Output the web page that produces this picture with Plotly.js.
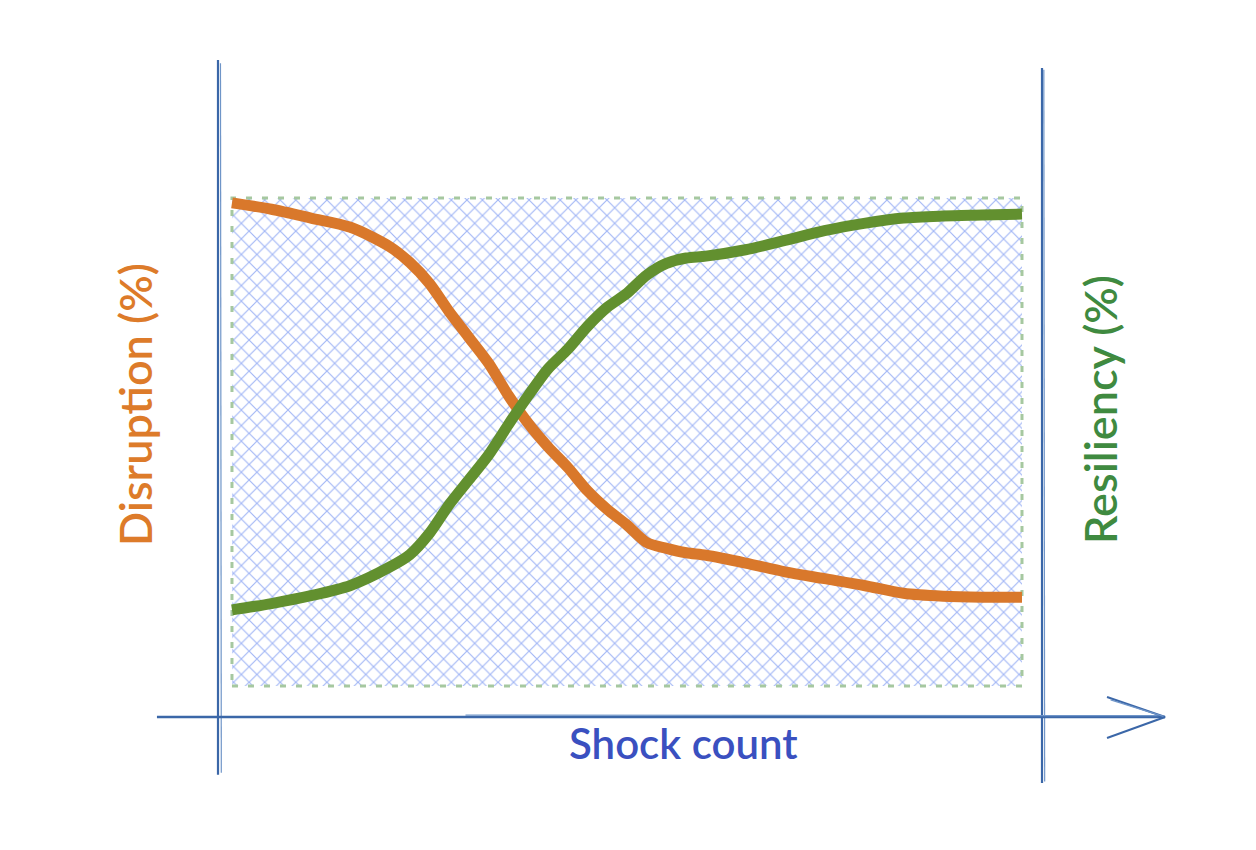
<!DOCTYPE html>
<html>
<head>
<meta charset="utf-8">
<script src="https://cdn.plot.ly/plotly-3.0.1.min.js"></script>
<style>html,body{margin:0;padding:0;background:#fff;}#chart{width:1256px;height:850px;}</style>
</head>
<body>
<div id="chart"></div>
<script>
// Shock count (0-100 scale of the drawn box)
const shockCount = [0, 5, 10, 15, 20, 22.5, 25, 27.5, 30, 32.5, 35, 37.5, 40, 42.5, 45, 47.5, 50, 52.5, 55, 57.5, 60, 65, 70, 75, 80, 85, 90, 95, 100];
// Disruption (%)
const disruption = [99.0, 97.7, 95.9, 94.0, 90.0, 86.8, 82.5, 76.7, 71.4, 66.1, 59.5, 53.8, 49.0, 44.8, 40.0, 36.2, 33.0, 29.4, 28.2, 27.3, 26.8, 25.2, 23.4, 22.0, 20.6, 19.0, 18.4, 18.2, 18.2];
// Resiliency (%)
const resiliency = [15.6, 16.9, 18.5, 20.6, 24.4, 26.9, 31.3, 37.2, 42.3, 47.4, 53.6, 59.5, 65.0, 69.0, 73.7, 77.6, 80.5, 84.2, 86.6, 87.7, 88.1, 89.4, 91.3, 93.3, 94.8, 95.9, 96.3, 96.5, 96.7];
// Hatched box bounds
const boxX = [0, 100, 100, 0, 0];
const boxY = [0, 0, 100, 100, 0];

const axisBlue = '#3b67a8';
const traces = [
  {
    x: boxX, y: boxY, type: 'scatter', mode: 'lines', fill: 'toself',
    fillcolor: 'rgba(255,255,255,0)',
    fillpattern: {shape: 'x', size: 11, solidity: 0.2, fgcolor: '#6f8ff0', fgopacity: 0.65, bgcolor: 'rgba(255,255,255,0)'},
    line: {color: '#a6c8a0', width: 3, dash: '6px,10px'},
    hoverinfo: 'skip', showlegend: false
  },
  {
    x: shockCount, y: disruption, type: 'scatter', mode: 'lines', name: 'Disruption (%)',
    line: {color: '#d9782b', width: 11, shape: 'spline', smoothing: 0.8},
    showlegend: false
  },
  {
    x: shockCount, y: resiliency, type: 'scatter', mode: 'lines', name: 'Resiliency (%)',
    yaxis: 'y2',
    line: {color: '#62902f', width: 11, shape: 'spline', smoothing: 0.8},
    showlegend: false
  }
];

function ln(x0, y0, x1, y1, w, c) {
  return {type: 'line', xref: 'paper', yref: 'paper', x0: x0, y0: y0, x1: x1, y1: y1,
          line: {color: c || axisBlue, width: w || 2}};
}
const layout = {
  width: 1256, height: 850,
  margin: {l: 218, r: 213, t: 60, b: 133},
  paper_bgcolor: '#ffffff', plot_bgcolor: 'rgba(0,0,0,0)',
  font: {family: 'Lato, "Noto Sans", sans-serif'},
  xaxis: {range: [-1.77, 102.66], showgrid: false, zeroline: false, showticklabels: false, ticks: '', showline: false},
  yaxis: {range: [-6.35, 128.28], showgrid: false, zeroline: false, showticklabels: false, ticks: '', showline: false},
  yaxis2: {range: [-6.35, 128.28], overlaying: 'y', side: 'right', showgrid: false, zeroline: false, showticklabels: false, ticks: '', showline: false},
  shapes: [
    ln(0, 1.0, 0, -0.088, 2.2),
    ln(0.003, 0.995, 0.004, -0.085, 1.2, '#6f95c8'),
    ln(0.9988, 0.988, 0.9988, -0.1005, 2.2),
    ln(1.001, 0.985, 1.002, -0.098, 1.2, '#6f95c8'),
    ln(-0.074, 0, 1.148, 0, 2.4),
    ln(0.3, 0.003, 1.14, 0.002, 1.2, '#6f95c8'),
    ln(1.0776, 0.0304, 1.148, 0, 2),
    ln(1.0776, -0.032, 1.148, 0, 2),
    ln(1.082, 0.026, 1.146, 0.001, 1.2, '#6f95c8')
  ],
  annotations: [
    {text: 'Disruption (%)', xref: 'paper', yref: 'paper', x: (135 - 218) / 825, y: (717 - 405) / 657,
     textangle: -90, showarrow: false, xanchor: 'center', yanchor: 'middle',
     font: {size: 45, color: '#dd7b2a', family: 'Lato, "Noto Sans", sans-serif', weight: 600}},
    {text: 'Resiliency (%)', xref: 'paper', yref: 'paper', x: (1100 - 218) / 825, y: (717 - 410) / 657,
     textangle: -90, showarrow: false, xanchor: 'center', yanchor: 'middle',
     font: {size: 45, color: '#3f8a40', family: 'Lato, "Noto Sans", sans-serif', weight: 600}},
    {text: 'Shock count', xref: 'paper', yref: 'paper', x: (683 - 218) / 825, y: (717 - 743) / 657,
     showarrow: false, xanchor: 'center', yanchor: 'middle',
     font: {size: 42, color: '#3a50c0', family: 'Lato, "Noto Sans", sans-serif', weight: 600}}
  ]
};
Plotly.newPlot('chart', traces, layout, {displayModeBar: false, staticPlot: true});
</script>
</body>
</html>
